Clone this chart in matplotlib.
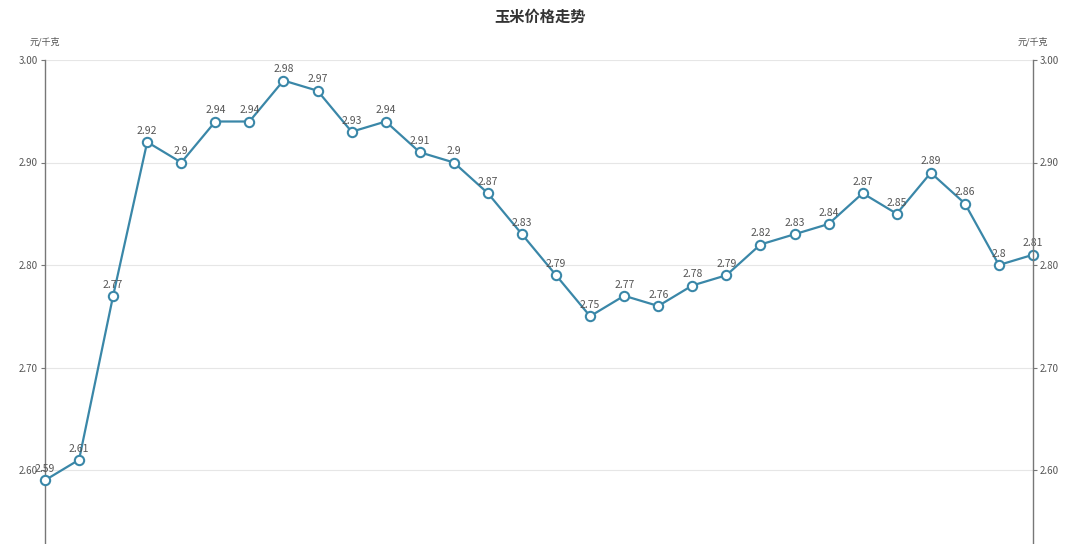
import matplotlib
matplotlib.use("Agg")
import matplotlib.pyplot as plt

plt.rcParams['font.family'] = ['Noto Sans CJK SC', 'DejaVu Sans']

title = "玉米价格走势"
unit = "元/千克"
prices = [2.59, 2.61, 2.77, 2.92, 2.9, 2.94, 2.94, 2.98, 2.97, 2.93,
          2.94, 2.91, 2.9, 2.87, 2.83, 2.79, 2.75, 2.77, 2.76, 2.78,
          2.79, 2.82, 2.83, 2.84, 2.87, 2.85, 2.89, 2.86, 2.8, 2.81]
yticks = [2.60, 2.70, 2.80, 2.90, 3.00]
labels = ["2.59", "2.61", "2.77", "2.92", "2.9", "2.94", "2.94", "2.98", "2.97", "2.93",
          "2.94", "2.91", "2.9", "2.87", "2.83", "2.79", "2.75", "2.77", "2.76", "2.78",
          "2.79", "2.82", "2.83", "2.84", "2.87", "2.85", "2.89", "2.86", "2.8", "2.81"]

W, H = 1080, 544
fig = plt.figure(figsize=(W/100, H/100), dpi=100)
left, right, top = 45, 1033, 60
ax = fig.add_axes([left/W, 0, (right-left)/W, (H-top)/H])

line_color = "#3a87a8"
x = list(range(len(prices)))
ax.plot(x, prices, color=line_color, lw=1.6, zorder=3, clip_on=False)
ax.scatter(x, prices, s=45, facecolor="white", edgecolor=line_color, linewidth=1.5, zorder=4, clip_on=False)
for xi, yi, lab in zip(x, prices, labels):
    ax.annotate(lab, (xi, yi), xytext=(0, 4.5), textcoords="offset points",
                ha="center", va="bottom", fontsize=7.5, color="#555555", zorder=5)

ybot = 2.6 - (H - 470) / 1025.0
ax.set_ylim(ybot, 3.0)
ax.set_xlim(0, len(prices) - 1)
ax.set_yticks(yticks)
ax.set_yticklabels([f"{v:.2f}" for v in yticks])
ax.grid(axis="y", color="#e6e6e6", lw=0.8)
ax.set_axisbelow(True)
ax.set_xticks([])
for s in ["top", "bottom", "right"]:
    ax.spines[s].set_visible(False)
ax.spines["left"].set_color("#777777")
ax.spines["left"].set_linewidth(1.0)
ax.tick_params(axis="y", length=3, width=0.8, color="#777777", labelsize=7, labelcolor="#555555", pad=2)

ax2 = ax.twinx()
ax2.set_ylim(ybot, 3.0)
ax2.set_yticks(yticks)
ax2.set_yticklabels([f"{v:.2f}" for v in yticks])
for s in ["top", "bottom", "left"]:
    ax2.spines[s].set_visible(False)
ax2.spines["right"].set_color("#777777")
ax2.spines["right"].set_linewidth(1.0)
ax2.tick_params(axis="y", length=3, width=0.8, color="#777777", labelsize=7, labelcolor="#555555", pad=2)

fig.text(540/W, 1 - 17/H, title, ha="center", va="center", fontsize=11, fontweight="bold", color="#333333")
fig.text(45/W, 1 - 42/H, unit, ha="center", va="center", fontsize=6.5, color="#555555")
fig.text(1033/W, 1 - 42/H, unit, ha="center", va="center", fontsize=6.5, color="#555555")

fig.savefig("out.png", dpi=100)
